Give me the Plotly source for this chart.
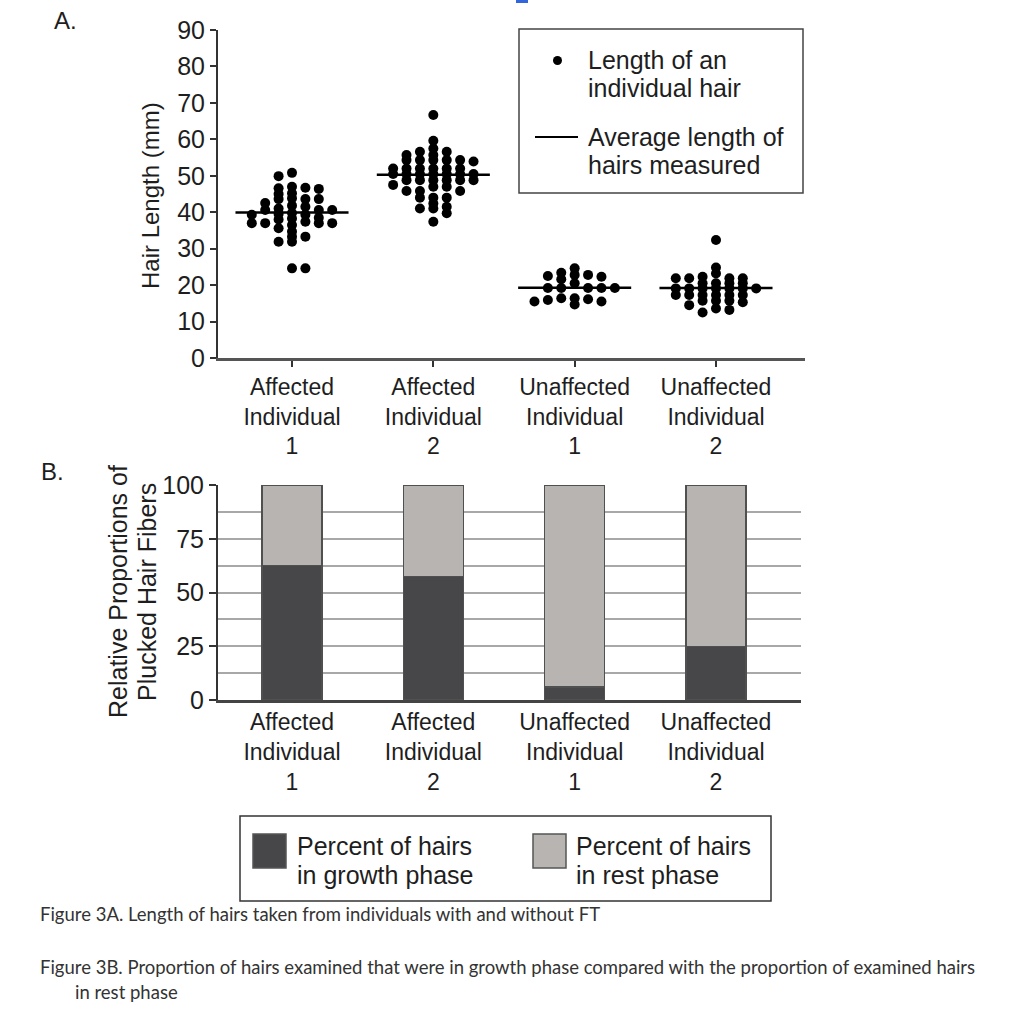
import plotly.graph_objects as go

# ---------------- data ----------------
categories = ["Affected<br>Individual<br>1", "Affected<br>Individual<br>2",
              "Unaffected<br>Individual<br>1", "Unaffected<br>Individual<br>2"]

hair_affected_1 = [50.8, 49.9, 46.7, 46.6, 47.0, 46.4, 45.2, 45.0, 43.6, 43.8, 43.6, 43.6,
                   42.5, 41.8, 41.5, 40.6, 40.6, 41.0, 40.6, 39.3, 39.5, 39.8, 39.3, 38.5,
                   38.3, 37.0, 37.0, 37.0, 37.4, 37.0, 36.5, 35.6, 34.7, 33.3, 33.3, 31.9,
                   31.9, 24.6, 24.6, 38.0]
hair_affected_2 = [66.7, 59.6, 57.5, 56.6, 56.6, 55.7, 55.7, 54.3, 54.3, 54.3, 54.3, 54.3,
                   53.9, 52.0, 52.0, 52.0, 52.0, 52.0, 52.0, 50.5, 50.5, 50.5, 50.5, 50.5,
                   50.5, 50.5, 48.8, 48.8, 48.8, 48.8, 48.8, 48.8, 47.5, 47.0, 47.0, 45.8,
                   45.8, 45.8, 44.0, 44.0, 44.0, 42.4, 41.5, 41.0, 41.0, 39.7, 37.4]
hair_unaffected_1 = [24.6, 23.4, 22.5, 22.8, 22.8, 22.3, 21.6, 20.5, 19.2, 19.2, 19.2, 19.2,
                     19.2, 16.1, 15.9, 15.5, 14.7, 15.5, 16.4, 16.4]
hair_unaffected_2 = [32.4, 24.8, 23.2, 22.3, 21.9, 21.9, 21.9, 21.9, 20.5, 20.5, 20.5, 20.5,
                     19.1, 19.1, 19.1, 19.1, 19.1, 19.1, 19.1, 17.3, 17.3, 17.3, 17.3, 17.3,
                     17.3, 15.7, 15.7, 15.7, 13.6, 12.5, 13.2, 14.5, 15.3]
mean_lengths = [39.9, 50.3, 19.3, 19.2]

growth_pct = [62.5, 57.5, 6, 25]
rest_pct = [37.5, 42.5, 94, 75]

yA_ticks = [0, 10, 20, 30, 40, 50, 60, 70, 80, 90]
yB_ticks = [0, 25, 50, 75, 100]
yB_all_ticks = [0, 12.5, 25, 37.5, 50, 62.5, 75, 87.5, 100]

legendA_texts = [["Length of an", "individual hair"], ["Average length of", "hairs measured"]]
legendB_texts = [["Percent of hairs", "in growth phase"], ["Percent of hairs", "in rest phase"]]
caption_a = "Figure 3A. Length of hairs taken from individuals with and without FT"
caption_b1 = ("Figure 3B. Proportion of hairs examined that were in growth phase compared "
              "with the proportion of examined hairs")
caption_b2 = "in rest phase"

# ---------------- layout constants ----------------
W = H = 1024
FONT = "Liberation Sans, Arial, Helvetica, sans-serif"
TXT = "#1e1e1e"
DARK = "#47474a"
LIGHT = "#b7b4b2"


def px(x):
    return x / W


def py(y):
    return 1 - y / H


AX_L, AX_R_A, AX_R_B = 218, 805, 801
CAT0, CAT_STEP = 292, 141.33
xr_A = [(AX_L - CAT0) / CAT_STEP, (AX_R_A - CAT0) / CAT_STEP]
xr_B = [(AX_L - CAT0) / CAT_STEP, (AX_R_B - CAT0) / CAT_STEP]
A_top, A_bot = 30, 358
B_top, B_bot = 485, 700

# conversion for swarm layout
x_per_px = 1 / CAT_STEP
y_per_px = 90 / (A_bot - A_top)
col_step = 13.4 * x_per_px
min_gap = 4.8 * y_per_px


def swarm(values, center):
    placed = {}
    out = [0.0] * len(values)
    order = sorted(range(len(values)), key=lambda i: -values[i])
    flip = False
    for i in order:
        v = values[i]
        cands = [0]
        for n in range(1, 15):
            cands += ([n, -n] if flip else [-n, n])
        for c in cands:
            if all(abs(v - y) >= min_gap for y in placed.get(c, [])):
                placed.setdefault(c, []).append(v)
                out[i] = center + c * col_step
                if c != 0:
                    flip = not flip
                break
    return out


groups = [hair_affected_1, hair_affected_2, hair_unaffected_1, hair_unaffected_2]
dot_x, dot_y = [], []
for k, vals in enumerate(groups):
    dot_x += swarm(vals, k)
    dot_y += vals

mean_x, mean_y = [], []
for k, m in enumerate(mean_lengths):
    mean_x += [k - 0.4, k + 0.4, None]
    mean_y += [m, m, None]

cat_pos = list(range(len(categories)))

fig = go.Figure()
fig.add_trace(go.Scatter(x=mean_x, y=mean_y, mode="lines", line=dict(color="black", width=2.5),
                         xaxis="x", yaxis="y", showlegend=False, hoverinfo="skip"))
fig.add_trace(go.Scatter(x=dot_x, y=dot_y, mode="markers",
                         marker=dict(color="black", size=10, line=dict(width=0)),
                         xaxis="x", yaxis="y", showlegend=False))
fig.add_trace(go.Bar(x=cat_pos, y=growth_pct, width=0.425,
                     marker=dict(color=DARK, line=dict(color="#505050", width=1.5)),
                     xaxis="x2", yaxis="y2", showlegend=False, name="Percent of hairs in growth phase"))
fig.add_trace(go.Bar(x=cat_pos, y=rest_pct, width=0.425,
                     marker=dict(color=LIGHT, line=dict(color="#505050", width=1.5)),
                     xaxis="x2", yaxis="y2", showlegend=False, name="Percent of hairs in rest phase"))

tickfont = dict(family=FONT, size=25, color=TXT)
catfont = dict(family=FONT, size=23, color=TXT)
common = dict(automargin=False, showgrid=False, zeroline=False)

layout = dict(
    width=W, height=H, margin=dict(l=0, r=0, t=0, b=0, pad=0, autoexpand=False),
    paper_bgcolor="white", plot_bgcolor="rgba(0,0,0,0)",
    barmode="stack", showlegend=False,
    xaxis=dict(domain=[px(AX_L), px(AX_R_A)], anchor="y", range=xr_A,
               tickmode="array", tickvals=cat_pos, ticktext=categories,
               ticks="outside", ticklen=6, tickwidth=1.5, tickcolor="#333",
               showline=True, linecolor="#555", linewidth=3, tickfont=catfont, **common),
    yaxis=dict(domain=[py(A_bot), py(A_top)], anchor="x", range=[0, 90],
               tickmode="array", tickvals=yA_ticks,
               ticks="outside", ticklen=6, tickwidth=1.5, tickcolor="#333",
               showline=True, linecolor="#333", linewidth=2, tickfont=tickfont, **common),
    xaxis3=dict(overlaying="x", anchor="y", range=xr_A, tickmode="array", tickvals=cat_pos,
                ticks="inside", ticklen=6, tickwidth=1.5, tickcolor="#333",
                showticklabels=False, showline=False, **common),
    yaxis3=dict(overlaying="y", anchor="x", range=[0, 90], tickmode="array", tickvals=yA_ticks,
                ticks="inside", ticklen=6, tickwidth=1.5, tickcolor="#333", side="left",
                showticklabels=False, showline=False, **common),
    xaxis2=dict(domain=[px(AX_L), px(AX_R_B)], anchor="y2", range=xr_B,
                tickmode="array", tickvals=cat_pos, ticktext=categories, ticks="",
                showline=True, linecolor="#444", linewidth=2.5, tickfont=catfont, **common),
    yaxis2=dict(domain=[py(B_bot), py(B_top)], anchor="x2", range=[0, 100],
                tickmode="array", tickvals=yB_ticks,
                ticks="outside", ticklen=7, tickwidth=1.5, tickcolor="#333",
                showline=True, linecolor="#333", linewidth=2,
                showgrid=True, gridcolor="#a8a8a8", gridwidth=2,
                minor=dict(tickmode="array", tickvals=yB_all_ticks, showgrid=True,
                           gridcolor="#a8a8a8", gridwidth=2, ticks=""),
                zeroline=False, automargin=False, tickfont=tickfont),
    yaxis4=dict(overlaying="y2", anchor="x2", range=[0, 100], tickmode="array", tickvals=yB_all_ticks,
                ticks="inside", ticklen=7, tickwidth=1.5, tickcolor="#333", side="left",
                showticklabels=False, showline=False, **common),
)
fig.update_layout(**layout)

ann = []
shapes = []


def text(x, y, s, size, anchor="left", angle=0, family=FONT, color=TXT):
    ann.append(dict(xref="paper", yref="paper", x=px(x), y=py(y), text=s, showarrow=False,
                    xanchor=anchor, yanchor="middle", textangle=angle, borderpad=0,
                    font=dict(family=family, size=size, color=color)))


# panel labels and axis titles
text(65, 20, "A.", 24, "center")
text(52, 471, "B.", 24, "center")
text(150, 196, "Hair Length (mm)", 24, "center", -90)
text(118, 592, "Relative Proportions of", 25, "center", -90)
text(147, 592, "Plucked Hair Fibers", 25, "center", -90)

# legend A
shapes.append(dict(type="rect", xref="paper", yref="paper", x0=px(519), x1=px(803), y0=py(193), y1=py(29),
                   line=dict(color="#444", width=1.5), fillcolor="rgba(0,0,0,0)"))
shapes.append(dict(type="circle", xref="paper", yref="paper", x0=px(553), x1=px(562), y0=py(65), y1=py(56),
                   line=dict(width=0), fillcolor="black"))
shapes.append(dict(type="line", xref="paper", yref="paper", x0=px(535), x1=px(578), y0=py(137), y1=py(137),
                   line=dict(color="black", width=2)))
for j, lines in enumerate(legendA_texts):
    base = 60 if j == 0 else 137
    for i, s in enumerate(lines):
        text(587, base + 28 * i, s, 25)

# legend B
shapes.append(dict(type="rect", xref="paper", yref="paper", x0=px(240), x1=px(771), y0=py(901), y1=py(816),
                   line=dict(color="#333", width=1.5), fillcolor="rgba(0,0,0,0)"))
shapes.append(dict(type="rect", xref="paper", yref="paper", x0=px(253), x1=px(286), y0=py(868), y1=py(834),
                   line=dict(color="#555", width=1.5), fillcolor=DARK))
shapes.append(dict(type="rect", xref="paper", yref="paper", x0=px(533), x1=px(566), y0=py(868), y1=py(834),
                   line=dict(color="#555", width=1.5), fillcolor=LIGHT))
for j, lines in enumerate(legendB_texts):
    x0 = 296 if j == 0 else 575
    for i, s in enumerate(lines):
        text(x0, 846 + 29 * i, s, 25)

# captions
CAP = "Lato, Carlito, sans-serif"
text(39, 914, caption_a, 18.5, family=CAP, color="#333")
text(39, 967, caption_b1, 18.5, family=CAP, color="#333")
text(74, 992, caption_b2, 18.5, family=CAP, color="#333")

# small blue mark at the top edge
shapes.append(dict(type="rect", xref="paper", yref="paper", x0=px(516), x1=px(528), y0=py(3), y1=py(0),
                   line=dict(width=0), fillcolor="#3366dd"))

fig.update_layout(annotations=ann, shapes=shapes)
fig.write_html("out.html")
